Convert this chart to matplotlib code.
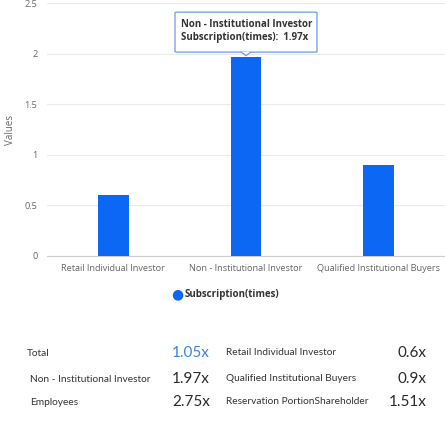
import matplotlib
matplotlib.use("Agg")
import matplotlib.pyplot as plt
from matplotlib.patches import FancyBboxPatch, Polygon

# 数据
categories = ["Retail Individual Investor", "Non - Institutional Investor",
              "Qualified Institutional Buyers"]
values = [0.6, 1.97, 0.9]
series_name = "Subscription(times)"
yticks = [0, 0.5, 1, 1.5, 2, 2.5]

table_left = [("Total", "1.05x"), ("Non - Institutional Investor", "1.97x"),
              ("Employees", "2.75x")]
table_right = [("Retail Individual Investor", "0.6x"),
               ("Qualified Institutional Buyers", "0.9x"),
               ("Reservation PortionShareholder", "1.51x")]

BLUE = "#0b67f4"
plt.rcParams["font.family"] = ["Open Sans", "DejaVu Sans"]

fig = plt.figure(figsize=(4.45, 4.23), dpi=100)
ax = fig.add_axes([0.1056, 0.3948, 0.8944, 0.598])
x = range(len(categories))
ax.bar(x, values, width=0.23, color=BLUE, zorder=3)
ax.set_xlim(-0.5, 2.5)
ax.set_ylim(0, 2.5)
ax.set_yticks(yticks)
ax.set_yticklabels(["0", "0.5", "1", "1.5", "2", "2.5"])
ax.set_xticks(list(x))
ax.set_xticklabels(categories)
ax.tick_params(axis="both", length=0, labelsize=6.6, colors="#666666")
ax.tick_params(axis="y", pad=7)
ax.tick_params(axis="x", pad=6)
ax.grid(axis="y", color="#ebebeb", lw=0.8, zorder=0)
for s in ("top", "right", "left"):
    ax.spines[s].set_visible(False)
ax.spines["bottom"].set_color("#d0d0d0")
ax.set_ylabel("Values", fontsize=7, color="#666666", labelpad=6)

# tooltip (box in data coords: x 176..318 px, y 13..53 px)
i = 1
bx0, bx1 = i - 0.535, i + 0.535
by0, by1 = 2.015, 2.41
ax.add_patch(FancyBboxPatch((bx0, by0), bx1 - bx0, by1 - by0,
                            boxstyle="round,pad=0,rounding_size=0.02",
                            fc="white", ec="#6a9be8", lw=0.9, zorder=5,
                            mutation_aspect=0.3))
ax.add_patch(Polygon([[i - 0.04, by0 + 0.004], [i, by0 - 0.035], [i + 0.04, by0 + 0.004]],
                     closed=False, fc="white", ec="#6a9be8", lw=0.9, zorder=6))
ax.text(bx0 + 0.045, (by0 + by1) / 2 + 0.01,
        f"{categories[i]}\n{series_name}:  {values[i]:.2f}x",
        fontsize=7, fontweight="bold", color="#333333", va="center", ha="left",
        linespacing=1.3, zorder=7)

# legend
fig.text(0.385, 1 - 294 / 423, "\u25cf", color=BLUE, fontsize=10, ha="left", va="center",
         family="DejaVu Sans")
fig.text(0.414, 1 - 294 / 423, series_name, color="#333333", fontsize=7,
         fontweight="bold", ha="left", va="center")

# table
rows_y = [353, 379, 402]
for (lab, val), yy, k in zip(table_left, rows_y, range(3)):
    fig.text(27 / 445 if k == 0 else 30 / 445, 1 - yy / 423, lab, fontsize=7.3,
             color="#333333", va="center", family="Lato")
    fig.text(210 / 445, 1 - yy / 423, val, fontsize=11,
             color="#3b82e6" if k == 0 else "#2a2a2a", ha="right", va="center",
             family="Lato")
for (lab, val), yy in zip(table_right, rows_y):
    fig.text(226 / 445, 1 - (yy - 1) / 423, lab, fontsize=7.3, color="#333333",
             va="center", family="Lato")
    fig.text(427 / 445, 1 - yy / 423, val, fontsize=11, color="#2a2a2a",
             ha="right", va="center", family="Lato")

fig.savefig("out.png", dpi=100)
